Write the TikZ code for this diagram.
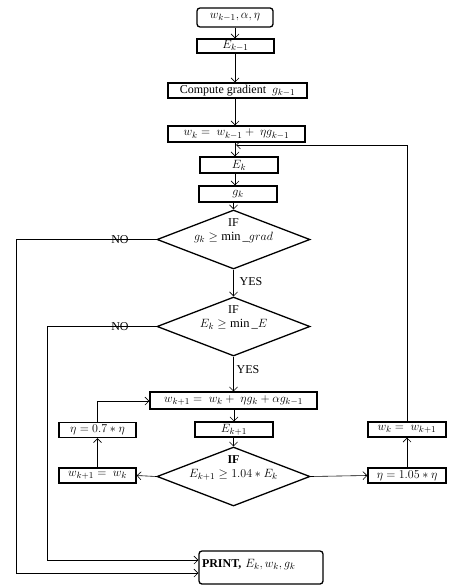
\documentclass[tikz,border=0pt]{standalone}
\usepackage{fontspec}
\setmainfont{Liberation Serif}
\usetikzlibrary{arrows.meta,shapes.geometric,calc}
\newcommand\mydiatext[2]{\raisebox{6pt}[0pt][0pt]{\makebox[0pt]{\begin{tabular}{@{}c@{}}#1\\#2\end{tabular}}}}
\newcommand\mym[1]{{\fontsize{12.5}{15}\selectfont$#1$}}
\begin{document}
\begin{tikzpicture}[x=1pt,y=-1pt,
  every node/.style={font=\fontsize{12}{14}\selectfont},
  box/.style={draw,line width=1.3pt,inner sep=0pt,rectangle},
  rbox/.style={box,rounded corners=3pt},
  dia/.style={draw,line width=1.3pt,diamond,aspect=1,inner sep=0pt,minimum width=153pt,minimum height=59pt},
  conn/.style={line width=0.6pt,-{Straight Barb[length=4pt,width=8pt]}},
  lbl/.style={inner sep=0pt}
]
\useasboundingbox (0,0) rectangle (474,588);
\coordinate (X) at (235,0);
% main column
\node[rbox,minimum width=76pt,minimum height=19pt] (top) at (235,17.5) {\mym{w_{k-1}, \alpha, \eta}};
\node[box,minimum width=77pt,minimum height=14pt] (Ekm1) at (235.5,46) {\mym{E_{k-1}}};
\node[box,minimum width=139pt,minimum height=15pt] (grad) at (237.5,90.5) {Compute gradient~ \mym{g_{k-1}}};
\node[box,minimum width=137pt,minimum height=16pt] (wk) at (236.5,134) {\mym{w_k =\ w_{k-1} +\ \eta g_{k-1}}};
\node[box,minimum width=78pt,minimum height=16pt] (Ek) at (239,165) {\mym{E_k}};
\node[box,minimum width=78pt,minimum height=16pt] (gk) at (238,194) {\mym{g_k}};
\node[dia] (d1) at (233.5,239.5) {\mydiatext{IF}{\mym{g_k \geq \min\_grad}}};
\node[dia] (d2) at (233.5,326.5) {\mydiatext{IF}{\mym{E_k \geq \min\_E}}};
\node[box,minimum width=167pt,minimum height=17pt] (upd) at (233.5,400.5) {\mym{w_{k+1} =\ w_k +\ \eta g_k + \alpha g_{k-1}}};
\node[box,minimum width=78pt,minimum height=15pt] (Ek1) at (234,429.5) {\mym{E_{k+1}}};
\node[dia] (d3) at (233.5,476.5) {\mydiatext{\textbf{IF}}{\mym{E_{k+1} \geq 1.04 * E_k}}};
% left branch
\node[box,minimum width=77pt,minimum height=15pt] (wkeq) at (97.5,475.5) {\mym{w_{k+1} =\ w_k}};
\node[box,minimum width=77pt,minimum height=15pt] (eta07) at (97.5,430) {\mym{\eta = 0.7 * \eta}};
% right branch
\node[box,minimum width=78pt,minimum height=15pt] (eta105) at (407,475.5) {\mym{\eta = 1.05 * \eta}};
\node[box,minimum width=78pt,minimum height=15pt] (wk2) at (407,429.5) {\mym{w_k =\ w_{k+1}}};
% print
\node[rbox,minimum width=124pt,minimum height=33pt,text width=118pt,align=left,text height=8pt,text depth=8pt] (print) at (261,567.5) {\textbf{PRINT,} \mym{E_k, w_k, g_k}};
% labels
\node[lbl] (no1) at (120,239.5) {NO};
\node[lbl] (no2) at (120,326.5) {NO};
\node[lbl] (yes1) at (251,282) {YES};
\node[lbl] (yes2) at (248,370) {YES};
% vertical connectors
\draw[conn] (top.south -| X) -- (Ekm1.north -| X);
\draw[conn] (Ekm1.south -| X) -- (grad.north -| X);
\draw[conn] (grad.south -| X) -- (wk.north -| X);
\draw[conn] (wk.south -| X) -- (Ek.north -| X);
\draw[conn] (Ek.south -| X) -- (gk.north -| X);
\draw[conn] (gk.south -| d1.north) -- (d1.north);
\draw[conn] (d1.south) -- (d2.north);
\draw[conn] (d2.south) -- (upd.north -| d2.south);
\draw[conn] (upd.south -| Ek1.north) -- (Ek1.north);
\draw[conn] (Ek1.south -| d3.north) -- (d3.north);
% side branches
\draw[conn] (d3.west) -- (wkeq.east);
\draw[conn] (wkeq.north) -- (eta07.south);
\coordinate (lc) at (97.5,401);
\draw[conn] (eta07.north) -- (lc) -- (lc -| upd.west);
\draw[conn] (d3.east) -- (eta105.west);
\draw[conn] (eta105.north) -- (wk2.south);
\coordinate (fb) at (236,145);
\draw[conn] (wk2.north) -- (wk2.north |- fb) -- (fb);
% NO paths
\coordinate (n1a) at (16,239.5);
\coordinate (n1b) at (16,573);
\draw[conn] (d1.west) -- (n1a) -- (n1b) -- (n1b -| print.west);
\coordinate (n2a) at (47,326.5);
\coordinate (n2b) at (47,560);
\draw[conn] (d2.west) -- (n2a) -- (n2b) -- (n2b -| print.west);
\end{tikzpicture}
\end{document}
